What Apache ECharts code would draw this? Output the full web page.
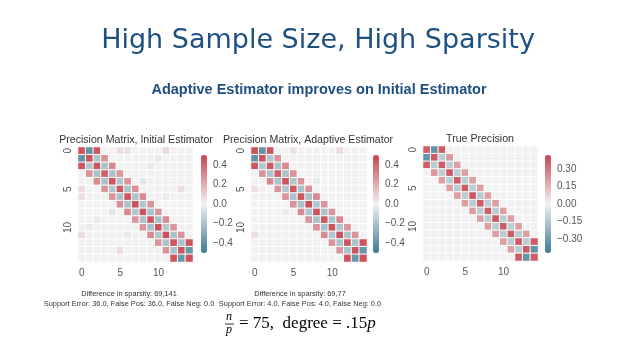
<!DOCTYPE html>
<html><head><meta charset="utf-8">
<script src="https://cdn.jsdelivr.net/npm/echarts@6/dist/echarts.min.js"></script>
<style>html,body{margin:0;padding:0;background:#fff}#c{width:638px;height:359px}</style>
</head><body><div id="c"></div>
<script>
// ---- data ----
const categories = ['0','1','2','3','4','5','6','7','8','9','10','11','12','13','14'];
const axisTicks = ['0','5','10'];

// Initial estimator: diagonal, first and second off-diagonals, off-band entries [row, col, value]
const initDiag = [0.46,0.45,0.44,0.42,0.45,0.44,0.45,0.46,0.45,0.44,0.45,0.46,0.45,0.45,0.46];
const initOff1 = [-0.40,-0.18,-0.20,-0.20,-0.18,-0.20,-0.20,-0.18,-0.20,-0.20,-0.18,-0.20,-0.20,-0.38];
const initOff2 = [0.45,0.27,0.30,0.27,0.27,0.28,0.30,0.27,0.27,0.30,0.27,0.27,0.45];
const initNoise = [[0,5,0.06],[0,6,0.05],[0,11,0.07],[4,8,-0.05],[5,13,0.06],[2,9,0.03],[6,11,0.03],[1,10,0.03]];

// Adaptive estimator
const adaDiag = [0.46,0.45,0.44,0.42,0.45,0.44,0.45,0.46,0.45,0.44,0.45,0.46,0.45,0.45,0.46];
const adaOff1 = [-0.40,-0.18,-0.20,-0.20,-0.18,-0.20,-0.20,-0.18,-0.20,-0.20,-0.18,-0.20,-0.20,-0.38];
const adaOff2 = [0.45,0.27,0.30,0.27,0.27,0.28,0.30,0.27,0.27,0.30,0.27,0.27,0.45];
const adaNoise = [[0,5,0.05],[0,11,0.06],[4,8,-0.03]];

// True precision
const trueDiag = [0.36,0.36,0.36,0.37,0.36,0.36,0.37,0.36,0.36,0.37,0.36,0.36,0.36,0.36,0.36];
const trueOff1 = [-0.33,-0.13,-0.13,-0.13,-0.13,-0.13,-0.13,-0.13,-0.13,-0.13,-0.13,-0.13,-0.13,-0.33];
const trueOff2 = [0.36,0.22,0.20,0.20,0.20,0.20,0.20,0.20,0.20,0.20,0.20,0.20,0.36];
const trueNoise = [];

const colorRanges = [[-0.5,0.5],[-0.5,0.5],[-0.42,0.42]];
const cbTicks = [[-0.4,-0.2,0,0.2,0.4],[-0.4,-0.2,0,0.2,0.4],[-0.3,-0.15,0,0.15,0.3]];
const cbDecimals = [1,1,2];
const panelTitles = ['Precision Matrix, Initial Estimator','Precision Matrix, Adaptive Estimator','True Precision'];
const footLines = [
  ['Difference in sparsity: 69,141','Support Error: 36.0, False Pos: 36.0, False Neg: 0.0'],
  ['Difference in sparsity: 69,77','Support Error: 4.0, False Pos: 4.0, False Neg: 0.0']
];

// ---- build ----
function buildMatrix(diag, off1, off2, noise){
  const n = categories.length;
  const m = [];
  for(let i=0;i<n;i++){ m.push(new Array(n).fill(0)); }
  diag.forEach((v,i)=>{ m[i][i]=v; });
  off1.forEach((v,i)=>{ m[i][i+1]=v; m[i+1][i]=v; });
  off2.forEach((v,i)=>{ m[i][i+2]=v; m[i+2][i]=v; });
  noise.forEach(([r,c,v])=>{ m[r][c]=v; m[c][r]=v; });
  const out=[];
  for(let r=0;r<n;r++) for(let c=0;c<n;c++) out.push([c,r,m[r][c]]);
  return out;
}
const mats = [
  buildMatrix(initDiag,initOff1,initOff2,initNoise),
  buildMatrix(adaDiag,adaOff1,adaOff2,adaNoise),
  buildMatrix(trueDiag,trueOff1,trueOff2,trueNoise)
];

const panels = [
  {left:78, top:147, w:115, h:115, cbLeft:201},
  {left:251, top:147, w:116, h:115, cbLeft:373},
  {left:423, top:146, w:115, h:115, cbLeft:545}
];
const cbTop = 155, cbH = 98, cbW = 6;
const cmap = ['#3d7a94','#f2f2f2','#c8434f'];
const fontFam = '"Liberation Sans", Arial, sans-serif';

const grid=[], xAxis=[], yAxis=[], series=[], visualMap=[], title=[];
panels.forEach((p,k)=>{
  grid.push({left:p.left, top:p.top, width:p.w, height:p.h});
  xAxis.push({type:'category', gridIndex:grid.length-1, data:categories,
    axisLine:{show:false}, axisTick:{show:false}, splitLine:{show:false},
    axisLabel:{interval:(i,v)=>axisTicks.includes(v), color:'#555', fontSize:10, fontFamily:fontFam, margin:6}});
  yAxis.push({type:'category', gridIndex:grid.length-1, data:categories, inverse:true,
    axisLine:{show:false}, axisTick:{show:false}, splitLine:{show:false},
    axisLabel:{interval:(i,v)=>axisTicks.includes(v), rotate:90, color:'#555', fontSize:10, fontFamily:fontFam, margin:5}});
  series.push({type:'heatmap', xAxisIndex:xAxis.length-1, yAxisIndex:yAxis.length-1, data:mats[k],
    itemStyle:{borderColor:'#fff', borderWidth:1}, emphasis:{disabled:true}});
  visualMap.push({type:'continuous', seriesIndex:series.length-1, min:colorRanges[k][0], max:colorRanges[k][1],
    calculable:false, show:true, orient:'vertical', left:p.cbLeft, top:cbTop, itemWidth:cbW, itemHeight:cbH,
    padding:0, text:null, inRange:{color:cmap}, hoverLink:false});
  // colorbar axis
  grid.push({left:p.cbLeft, top:cbTop, width:cbW, height:cbH});
  xAxis.push({type:'value', gridIndex:grid.length-1, show:false, min:0, max:1});
  yAxis.push({type:'value', gridIndex:grid.length-1, position:'right', min:colorRanges[k][0], max:colorRanges[k][1],
    axisLine:{show:false}, axisTick:{show:false}, splitLine:{show:false},
    axisLabel:{customValues:cbTicks[k], color:'#555', fontSize:10, fontFamily:fontFam, margin:6,
      formatter:v=>(v<0?'\u2212':'')+Math.abs(v).toFixed(cbDecimals[k])}});
  series.push({type:'line', xAxisIndex:xAxis.length-1, yAxisIndex:yAxis.length-1, data:[], silent:true});
  title.push({text:panelTitles[k], left:[136,308,480][k], top:p.top-12, textAlign:'center', padding:0,
    textStyle:{fontSize:10.6, fontWeight:'normal', color:'#333', fontFamily:fontFam}});
});
title.push({text:'High Sample Size, High Sparsity', left:318, top:27, textAlign:'center', padding:0,
  textStyle:{fontSize:27, fontWeight:'normal', color:'#1f5082', fontFamily:'"DejaVu Sans", Verdana, sans-serif'}});
title.push({text:'Adaptive Estimator improves on Initial Estimator', left:319, top:82, textAlign:'center', padding:0,
  textStyle:{fontSize:14.5, fontWeight:'bold', color:'#1f4f80', fontFamily:fontFam}});
footLines.forEach((ls,k)=>{
  title.push({text:ls[0]+'\n'+ls[1], left:[129,300][k], top:289, textAlign:'center', padding:0,
    textStyle:{fontSize:7.4, fontWeight:'normal', color:'#333', lineHeight:10, fontFamily:fontFam}});
});

const serif = '"Liberation Serif", "DejaVu Serif", serif';
const option = {
  animation:false,
  title, grid, xAxis, yAxis, series, visualMap,
  graphic:[
    {type:'text', left:226, top:311, style:{text:'n', font:'italic 12px '+serif, fill:'#000'}},
    {type:'line', shape:{x1:225, y1:324, x2:234, y2:324}, style:{stroke:'#000', lineWidth:0.8}},
    {type:'text', left:226, top:324, style:{text:'p', font:'italic 12px '+serif, fill:'#000'}},
    {type:'text', left:239, top:315, style:{rich:{a:{fontSize:17, fontFamily:serif, fill:'#000'}, i:{fontSize:17, fontFamily:serif, fontStyle:'italic', fill:'#000'}},
      text:'{a|= 75,  degree = .15}{i|p}', fill:'#000'}}
  ]
};
const chart = echarts.init(document.getElementById('c'));
chart.setOption(option);
</script></body></html>
